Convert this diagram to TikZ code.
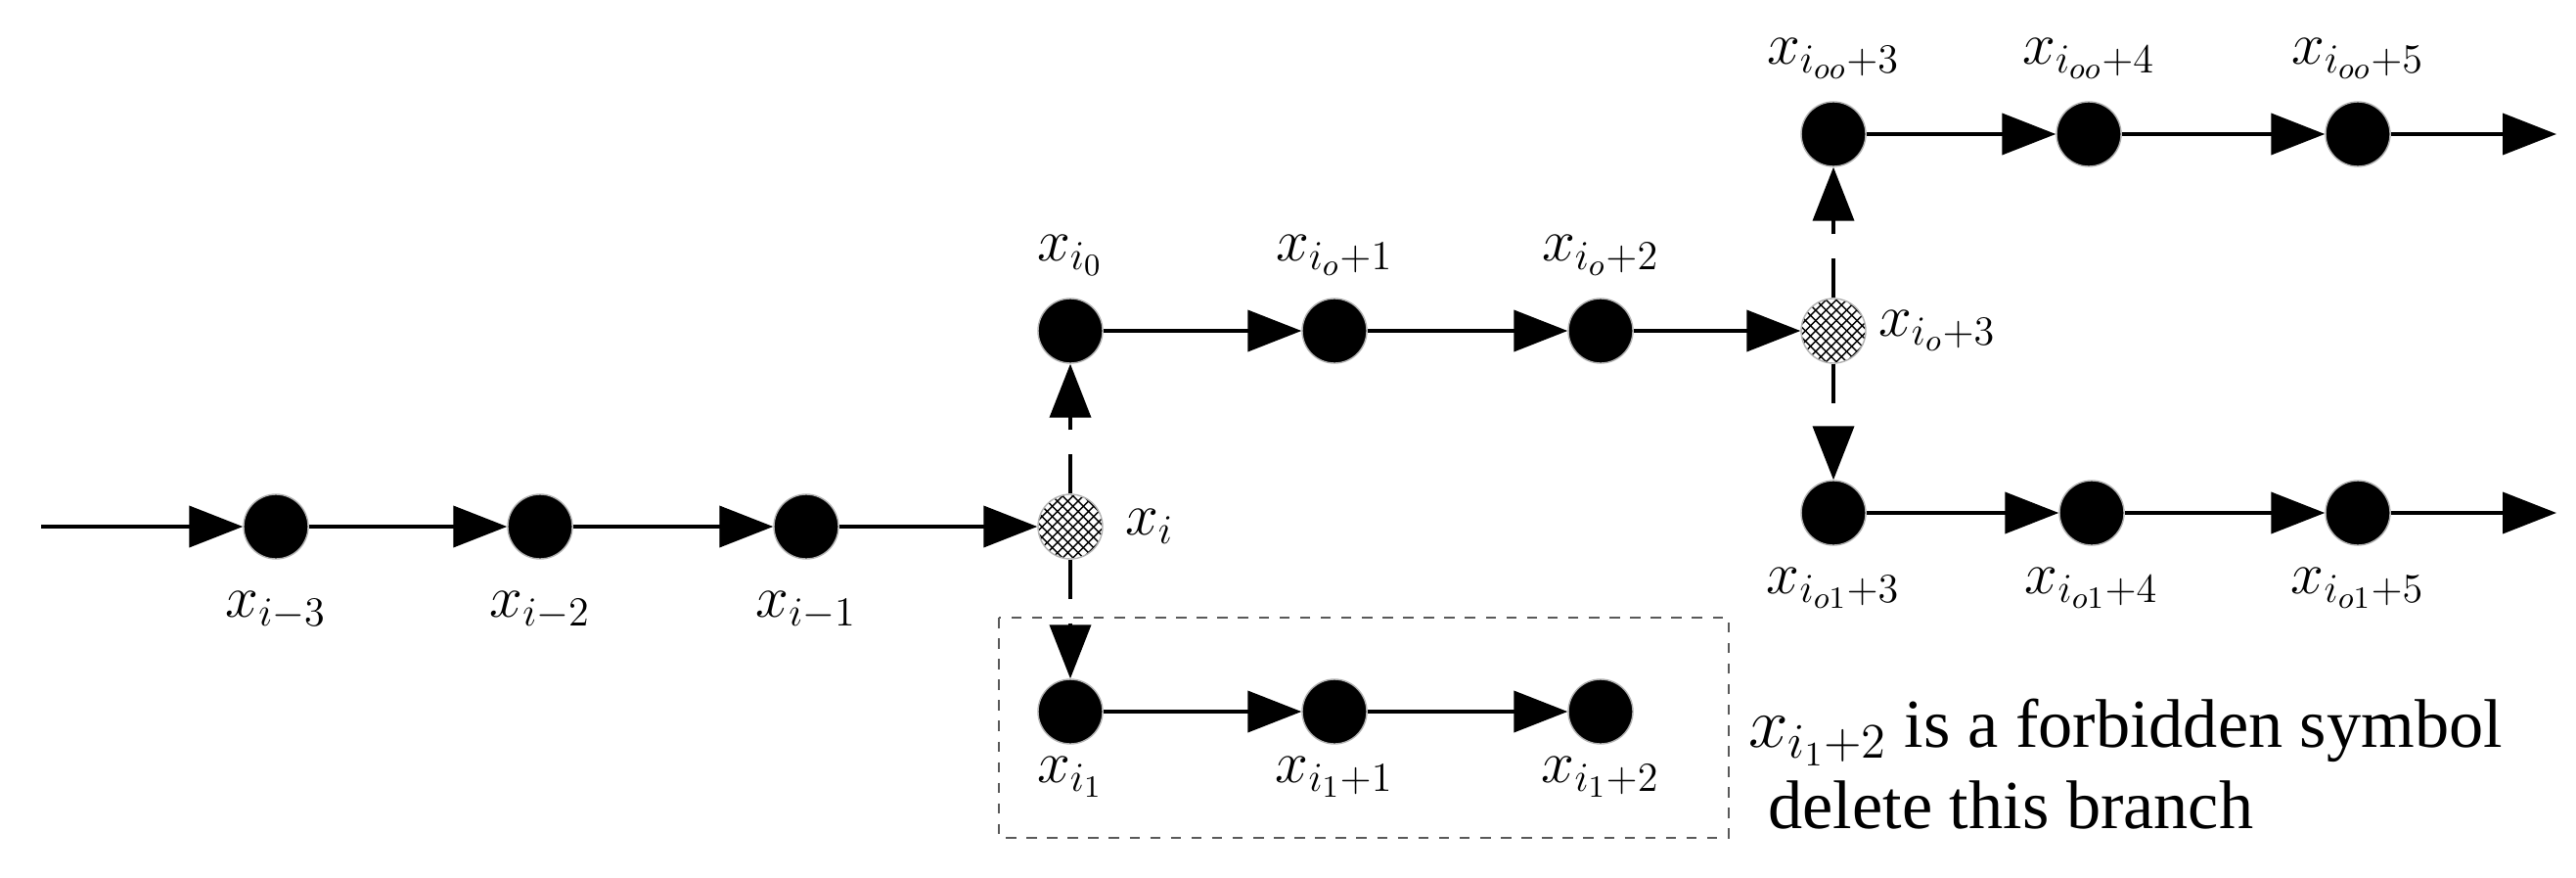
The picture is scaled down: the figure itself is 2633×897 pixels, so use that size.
\documentclass[tikz,border=0pt]{standalone}
\usepackage{fontspec}
\setmainfont{Liberation Serif}
\usetikzlibrary{arrows.meta,patterns}
\begin{document}
\begin{tikzpicture}[x=0.1mm,y=-0.1mm,
  dot/.style={circle,fill=black,draw=gray!60,minimum size=6.6mm,inner sep=0pt},
  hat/.style={circle,pattern=crosshatch,draw=gray!60,minimum size=6.6mm,inner sep=0pt},
  arr/.style={line width=1.1pt,-{Triangle[length=5.5mm,width=4.2mm]}},
  darr/.style={arr,dash pattern=on 4mm off 2.5mm},
  lbl/.style={font=\fontsize{18}{22}\selectfont}]
\useasboundingbox (0,0) rectangle (2633,897);
% main row
\coordinate (s) at (42,538);
\node[dot] (a) at (282,538) {};
\node[dot] (b) at (552,538) {};
\node[dot] (c) at (824,538) {};
\node[hat] (h) at (1094,538) {};
% upper row
\node[dot] (u0) at (1094,338) {};
\node[dot] (u1) at (1364,338) {};
\node[dot] (u2) at (1636,338) {};
\node[hat] (h2) at (1874,338) {};
% top row
\node[dot] (t0) at (1874,137) {};
\node[dot] (t1) at (2135,137) {};
\node[dot] (t2) at (2410,137) {};
\coordinate (te) at (2613,137);
% right lower row
\node[dot] (r0) at (1874,524) {};
\node[dot] (r1) at (2138,524) {};
\node[dot] (r2) at (2410,524) {};
\coordinate (re) at (2613,524);
% bottom branch
\node[dot] (d0) at (1094,727) {};
\node[dot] (d1) at (1364,727) {};
\node[dot] (d2) at (1636,727) {};
% connectors
\draw[arr] (s) -- (a.west);
\draw[arr] (a) -- (b.west);
\draw[arr] (b) -- (c.west);
\draw[arr] (c) -- (h.west);
\draw[darr] (h) -- (u0.south);
\draw[darr] (h) -- (d0.north);
\draw[arr] (u0) -- (u1.west);
\draw[arr] (u1) -- (u2.west);
\draw[arr] (u2) -- (h2.west);
\draw[darr] (h2) -- (t0.south);
\draw[darr] (h2) -- (r0.north);
\draw[arr] (t0) -- (t1.west);
\draw[arr] (t1) -- (t2.west);
\draw[arr] (t2) -- (te);
\draw[arr] (r0) -- (r1.west);
\draw[arr] (r1) -- (r2.west);
\draw[arr] (r2) -- (re);
\draw[arr] (d0) -- (d1.west);
\draw[arr] (d1) -- (d2.west);
% labels
\node[lbl,below=2mm] (la) at (a.south) {$x_{i-3}$};
\node[lbl,below=2mm] (lb) at (b.south) {$x_{i-2}$};
\node[lbl,below=2mm] (lc) at (c.south) {$x_{i-1}$};
\node[lbl,right=1mm] (lh) at (h.east) {$x_{i}$};
\node[lbl,above=1mm] (lu0) at (u0.north) {$x_{i_0}$};
\node[lbl,above=1mm] (lu1) at (u1.north) {$x_{i_o+1}$};
\node[lbl,above=1mm] (lu2) at (u2.north) {$x_{i_o+2}$};
\node[lbl,right=0mm] (lh2) at (h2.east) {$x_{i_o+3}$};
\node[lbl,above=1mm] (lt0) at (t0.north) {$x_{i_{oo}+3}$};
\node[lbl,above=1mm] (lt1) at (t1.north) {$x_{i_{oo}+4}$};
\node[lbl,above=1mm] (lt2) at (t2.north) {$x_{i_{oo}+5}$};
\node[lbl,below=1mm] (lr0) at (r0.south) {$x_{i_{o1}+3}$};
\node[lbl,below=1mm] (lr1) at (r1.south) {$x_{i_{o1}+4}$};
\node[lbl,below=1mm] (lr2) at (r2.south) {$x_{i_{o1}+5}$};
\node[lbl,below=0mm] (ld0) at (d0.south) {$x_{i_1}$};
\node[lbl,below=0mm] (ld1) at (d1.south) {$x_{i_1+1}$};
\node[lbl,below=0mm] (ld2) at (d2.south) {$x_{i_1+2}$};
% box
\draw[gray!70!black,dashed,line width=0.5pt] (1021,631) rectangle (1767,856);
\node[anchor=west,font=\fontsize{20}{24}\selectfont] (n1) at (1775,748) {$x_{i_1+2}$ is a forbidden symbol};
\node[anchor=west,font=\fontsize{20}{24}\selectfont] (n2) at (1795,822) {delete this branch};
\end{tikzpicture}
\end{document}
